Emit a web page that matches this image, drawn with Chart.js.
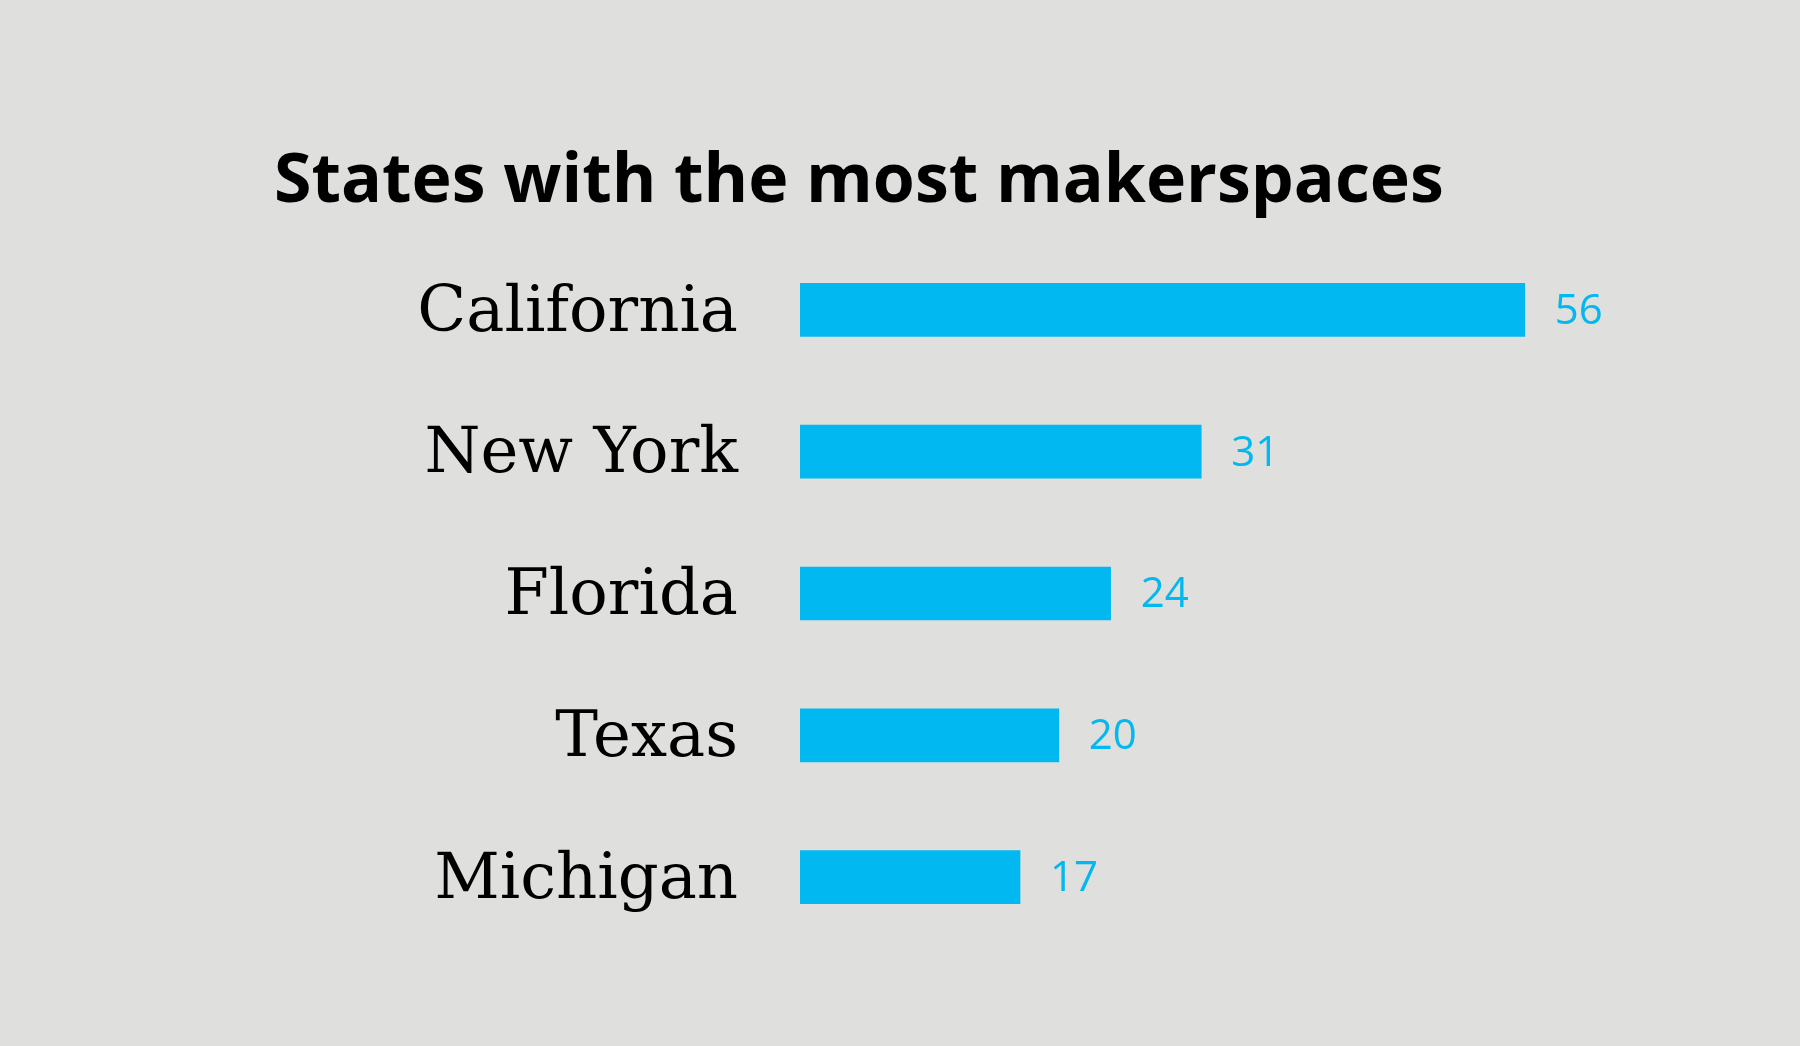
<!DOCTYPE html>
<html>
<head>
<meta charset="utf-8">
<script src="https://cdn.jsdelivr.net/npm/chart.js@4/dist/chart.umd.min.js"></script>
<style>
  html, body { margin: 0; padding: 0; background: #dfdfdd; }
  #wrap { width: 1800px; height: 1046px; position: relative; }
</style>
</head>
<body>
<div id="wrap"><canvas id="c"></canvas></div>
<script>
// Données
const STATES = ['California', 'New York', 'Florida', 'Texas', 'Michigan'];
const COUNTS = [56, 31, 24, 20, 17];
const TITLE  = 'States with the most makerspaces';
const BLUE   = '#02b8f0';

// Titre, étiquettes d'états et valeurs dessinés à la main
const labelsPlugin = {
    id: 'labels',
    afterDatasetsDraw(chart) {
        const ctx  = chart.ctx;
        const meta = chart.getDatasetMeta(0);
        ctx.save();
        ctx.fillStyle = '#000';
        ctx.font = 'bold 68px "Open Sans", "DejaVu Sans", sans-serif';
        ctx.textAlign = 'left';
        ctx.textBaseline = 'alphabetic';
        ctx.fillText(TITLE, 274, 202);

        meta.data.forEach((bar, i) => {
            ctx.fillStyle = '#000';
            ctx.font = '64px "DejaVu Serif", serif';
            ctx.textAlign = 'right';
            ctx.textBaseline = 'middle';
            ctx.fillText(STATES[i], 738, bar.y + 4);

            ctx.fillStyle = BLUE;
            ctx.font = '42px "Open Sans", sans-serif';
            ctx.textAlign = 'left';
            ctx.fillText(String(COUNTS[i]), bar.x + 30, bar.y + 2);
        });
        ctx.restore();
    },
};

new Chart(document.getElementById('c'), {
    type: 'bar',
    data: {
        labels: STATES,
        datasets: [{ data: COUNTS, backgroundColor: BLUE, barThickness: 53, borderWidth: 0 }],
    },
    options: {
        responsive: true,
        maintainAspectRatio: false,
        animation: false,
        indexAxis: 'y',
        layout: { padding: { left: 800, right: 94, top: 239, bottom: 98 } },
        plugins: { legend: { display: false }, tooltip: { enabled: false } },
        scales: {
            x: { display: false, min: 0, max: 70 },
            y: { display: false },
        },
    },
    plugins: [labelsPlugin],
});
</script>
</body>
</html>
